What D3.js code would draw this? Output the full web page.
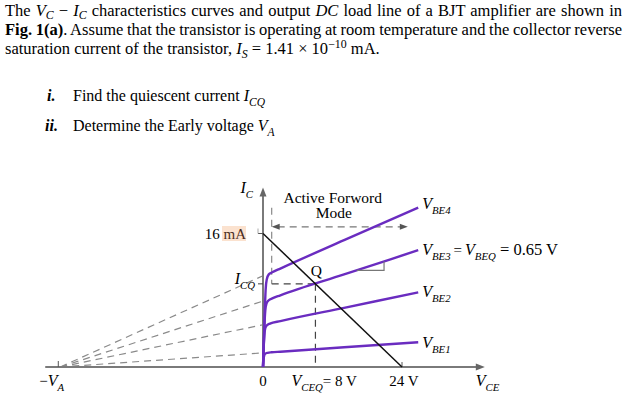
<!DOCTYPE html>
<html><head><meta charset="utf-8">
<script src="https://cdn.jsdelivr.net/npm/d3@7"></script>
<style>
body{margin:0;background:#fff;}
#wrap{position:relative;width:627px;height:395px;overflow:hidden;background:#fff;}
.pline{position:absolute;left:5px;font-family:"Liberation Serif","Times New Roman",serif;font-size:16.5px;line-height:16.5px;white-space:nowrap;color:#000;}
.ss{display:inline-block;font-size:0.72em;line-height:0.8em;position:relative;}
svg text{font-family:"Liberation Serif","Times New Roman",serif;white-space:pre;}
</style></head><body><div id="wrap"></div>
<script>
// ---------------- DATA ----------------
const paragraphLines = [
  [["The "],["V","i"],["C","isub"],[" − "],["I","i"],["C","isub"],[" characteristics curves and output "],["DC","i"],[" load line of a BJT amplifier are shown in"]],
  [["Fig. 1(a)","b"],[". Assume that the transistor is operating at room temperature and the collector reverse"]],
  [["saturation current of the transistor, "],["I","i"],["S","isub"],[" = 1.41 × 10"],["−10","sup"],[" mA."]]
];
const paragraphJustify = [true, true, false];
const questionNumbers = ["i.", "ii."];
const questionTexts = [
  [["Find the quiescent current "],["I","i"],["CQ","isub"]],
  [["Determine the Early voltage "],["V","i"],["A","isub"]]
];
// characteristic curves (x: V_CE in diagram volts, y: I_C in mA)
const curveNames = ["BE1","BE2","BE3","BE4"];
const curveVBE1 = [[0,0],[0.08,0.8],[0.2,1.35],[0.4,1.6],[0.8,1.7],[1.5,1.76],[3,1.83],[14,2.36],[26.8,2.97]];
const curveVBE2 = [[0,0],[0.1,2],[0.22,3.8],[0.38,4.6],[0.6,4.95],[1.2,5.2],[3,5.5],[14,7.09],[26.8,8.94]];
const curveVBE3 = [[0,0],[0.12,2.5],[0.25,5],[0.4,6.8],[0.6,7.6],[1.0,8.0],[1.6,8.22],[3,8.59],[14,11.09],[26.8,14.0]];
const curveVBE4 = [[0,0],[0.15,3],[0.3,6.5],[0.45,9.2],[0.65,10.5],[1.0,11.1],[1.6,11.35],[3,11.8],[14,15.2],[26.8,19.1]];
const curves = [curveVBE1, curveVBE2, curveVBE3, curveVBE4];
const curveLabelExtra = ["", "", "\u2009=\u2009V_BEQ", ""];
const curveLabelValue = ["", "", " = 0.65 V", ""];
const earlyVoltage = 35;          // -V_A intercept (diagram units)
const loadLineVcc = 24;           // V
const loadLineIsat = 16;          // mA
const vcesatBoundary = 1.5;       // edge of saturation region
const activeArrowLevel = 16.8;    // mA level of "Active Forword Mode" arrow
const activeArrowEnd = 25;        // V
const satTop = 19.1;              // top of dashed boundary
const slopeTriangle = [16.2, 20.9];
const xAxisExtent = [-37.6, 38.3];
const yAxisTop = 21.5;
const xTickLabels = ["−V_A", "0", "V_CEQ= 8 V", "24 V", "V_CE"];
const yTickLabels = ["16 mA", "I_CQ", "I_C"];
const modeLabel = ["Active Forword", "Mode"];

// ---------------- SCALES ----------------
const x = d3.scaleLinear().domain([0, 24]).range([263, 402]);
const y = d3.scaleLinear().domain([0, 16]).range([367, 233.5]);

const wrap = d3.select("#wrap");

// ---------------- PARAGRAPH (HTML, justified) ----------------
const pTops = [2.9, 22.2, 41.2];
paragraphLines.forEach((parts, li) => {
  const div = wrap.append("div").attr("class","pline").style("top", pTops[li]+"px");
  const inner = div.append("span");
  parts.forEach(([t, s]) => {
    const sp = inner.append("span").text(t);
    if (s === "i") sp.style("font-style","italic");
    if (s === "b") sp.style("font-weight","bold");
    if (s === "isub") sp.attr("class","ss").style("font-style","italic").style("top","0.28em");
    if (s === "sup") sp.attr("class","ss").style("top","-0.5em");
  });
  if (paragraphJustify[li]) {
    const w = inner.node().getBoundingClientRect().width;
    const nSpaces = parts.map(p => p[0]).join("").split(" ").length - 1;
    div.style("word-spacing", ((617 - w) / nSpaces) + "px");
  }
});

// ---------------- SVG ----------------
const svg = wrap.append("svg").attr("width",627).attr("height",395)
  .style("position","absolute").style("left",0).style("top",0);

function rich(t, str, size) {
  const tokens = [];
  str.split(/(\S*?[A-Za-z]_[A-Za-z0-9]+)/).forEach(seg => {
    if (!seg) return;
    const m = seg.match(/^(.*?)([A-Za-z])_([A-Za-z0-9]+)$/);
    if (m) {
      if (m[1]) tokens.push({t:m[1]});
      tokens.push({t:m[2], i:true});
      tokens.push({t:m[3], sub:true});
    } else tokens.push({t:seg});
  });
  let shift = 0;
  tokens.forEach(p => {
    const target = p.sub ? Math.round(size*0.3) : 0;
    const ts = t.append("tspan").text(p.t);
    if (target - shift !== 0) ts.attr("dy", target - shift);
    shift = target;
    if (p.sub) ts.attr("font-size", size*0.72).attr("font-style","italic");
    if (p.i) ts.attr("font-style","italic").attr("font-size", size*1.07);
  });
  return t;
}
function richParts(t, parts, size) {
  let shift = 0;
  parts.forEach(([txt, s]) => {
    const target = s === "isub" ? Math.round(size*0.3) : 0;
    const ts = t.append("tspan").text(txt);
    if (target - shift !== 0) ts.attr("dy", target - shift);
    shift = target;
    if (s === "isub") ts.attr("font-size", size*0.72).attr("font-style","italic");
    if (s === "i") ts.attr("font-style","italic");
  });
}

// Questions
const qBase = [100.5, 131];
questionNumbers.forEach((n, i) => {
  svg.append("text").attr("x", i === 0 ? 47 : 45).attr("y", qBase[i]).attr("font-size",16)
    .attr("font-style","italic").attr("font-weight","bold").text(n);
  const t = svg.append("text").attr("x",73).attr("y",qBase[i]).attr("font-size",16);
  richParts(t, questionTexts[i], 16);
});

const gray = "#8a8a8a";
const purple = "#6a2cc0";
const dash = "7,5";

// dashed extrapolation lines to -V_A
const intercepts = curves.map(c => {
  const [p1, p2] = [c[c.length-2], c[c.length-1]];
  const s = (p2[1]-p1[1])/(p2[0]-p1[0]);
  return p2[1] - s*p2[0];
});
intercepts.forEach(i0 => {
  svg.append("line").attr("x1", x(-earlyVoltage)).attr("y1", y(0)).attr("x2", x(0)).attr("y2", y(i0))
    .attr("stroke", gray).attr("stroke-width",1.2).attr("stroke-dasharray",dash);
});

// axes
svg.append("line").attr("x1", x(xAxisExtent[0])).attr("y1", y(0)).attr("x2", x(xAxisExtent[1])-6).attr("y2", y(0))
  .attr("stroke", "#7a7a7a").attr("stroke-width",2);
svg.append("path").attr("d", `M${x(xAxisExtent[1])},${y(0)} l-9,-3.5 l0,7 z`).attr("fill","#666");
svg.append("line").attr("x1", x(0)).attr("y1", y(0)).attr("x2", x(0)).attr("y2", y(yAxisTop)+6)
  .attr("stroke", "#7a7a7a").attr("stroke-width",2);
svg.append("path").attr("d", `M${x(0)},${y(yAxisTop)} l-3.5,9 l7,0 z`).attr("fill","#666");

// ticks
svg.append("line").attr("x1", x(-earlyVoltage)-2).attr("x2", x(-earlyVoltage)-2).attr("y1", y(0)-6).attr("y2", y(0)).attr("stroke","#555").attr("stroke-width",1);
svg.append("line").attr("x1", x(loadLineVcc)).attr("x2", x(loadLineVcc)).attr("y1", y(0)-5).attr("y2", y(0)).attr("stroke","#555").attr("stroke-width",1);
svg.append("line").attr("x1", x(0)-5).attr("x2", x(0)).attr("y1", y(loadLineIsat)).attr("y2", y(loadLineIsat)).attr("stroke","#555").attr("stroke-width",1);
svg.append("line").attr("x1", x(0)-5).attr("x2", x(0)-5).attr("y1", y(loadLineIsat)-5).attr("y2", y(loadLineIsat)).attr("stroke","#aaa").attr("stroke-width",1);

// Q point: intersection of load line with the V_BE3 linear part
const c3 = curveVBE3; const a = c3[c3.length-2], b = c3[c3.length-1];
const s3 = (b[1]-a[1])/(b[0]-a[0]);
const sl = -loadLineIsat/loadLineVcc;
const vq = (loadLineIsat - (a[1] - s3*a[0])) / (s3 - sl);
const iq = loadLineIsat + sl*vq;

// saturation boundary + ICQ / VCEQ dashed guides
svg.append("line").attr("x1", x(vcesatBoundary)).attr("x2", x(vcesatBoundary)).attr("y1", y(satTop)).attr("y2", y(iq))
  .attr("stroke", gray).attr("stroke-width",1.2).attr("stroke-dasharray",dash);
svg.append("line").attr("x1", x(vcesatBoundary)).attr("x2", x(vq)).attr("y1", y(iq)).attr("y2", y(iq))
  .attr("stroke", "#444").attr("stroke-width",1.2).attr("stroke-dasharray",dash);
svg.append("line").attr("x1", x(vq)).attr("x2", x(vq)).attr("y1", y(iq)).attr("y2", y(0))
  .attr("stroke", "#444").attr("stroke-width",1.2).attr("stroke-dasharray",dash);
svg.append("line").attr("x1", x(0)-5).attr("x2", x(0)).attr("y1", y(iq)).attr("y2", y(iq)).attr("stroke","#444").attr("stroke-width",1);

// active mode arrow
svg.append("line").attr("x1", x(vcesatBoundary)+6).attr("x2", x(activeArrowEnd)-6).attr("y1", y(activeArrowLevel)).attr("y2", y(activeArrowLevel))
  .attr("stroke", "#777").attr("stroke-width",1.2).attr("stroke-dasharray",dash);
svg.append("path").attr("d", `M${x(vcesatBoundary)},${y(activeArrowLevel)} l8,-3 l0,6 z`).attr("fill","#555");
svg.append("path").attr("d", `M${x(activeArrowEnd)},${y(activeArrowLevel)} l-8,-3 l0,6 z`).attr("fill","#555");
const amx = (x(vcesatBoundary) + x(activeArrowEnd)) / 2 - 7;
const mt = svg.append("text").attr("x", amx).attr("y", y(activeArrowLevel)-23.5).attr("text-anchor","middle").attr("font-size",15.5);
mt.append("tspan").attr("x", amx).text(modeLabel[0]);
mt.append("tspan").attr("x", amx+1).attr("dy", 15).text(modeLabel[1]);

// curves
const line = d3.line().x(d => x(d[0])).y(d => y(d[1])).curve(d3.curveMonotoneX);
curves.forEach(c => {
  svg.append("path").attr("d", line(c)).attr("fill","none").attr("stroke", purple).attr("stroke-width",2.4)
    .attr("stroke-linejoin","round");
});

// slope triangle on V_BE3
const f3 = v => a[1] + s3*(v - a[0]);
svg.append("path").attr("d", `M${x(slopeTriangle[0])},${y(f3(slopeTriangle[0]))} H${x(slopeTriangle[1])} V${y(f3(slopeTriangle[1]))}`)
  .attr("fill","none").attr("stroke", "#777").attr("stroke-width",1.2);

// load line
svg.append("line").attr("x1", x(0)).attr("y1", y(loadLineIsat)).attr("x2", x(loadLineVcc)).attr("y2", y(0))
  .attr("stroke","#111").attr("stroke-width",1.5);

// curve labels
const labOff = [6, 5, 4.5, 1.5];
curves.forEach((c, k) => {
  const end = c[c.length-1];
  const t = svg.append("text").attr("x", x(end[0])+4).attr("y", y(end[1])+labOff[k]).attr("font-size",15);
  rich(t, "V_" + curveNames[k] + curveLabelExtra[k], 15);
  if (curveLabelValue[k]) t.append("tspan").attr("font-size",16.5).attr("dy",-Math.round(15*0.3)).text(curveLabelValue[k]);
});

// Q label
svg.append("text").attr("x", x(vq)+1).attr("y", y(iq)-7.5).attr("text-anchor","middle").attr("font-size",15.5).text("Q");

// x tick labels
const xl = 386;
rich(svg.append("text").attr("x", x(-earlyVoltage)-21).attr("y", xl).attr("font-size",15), xTickLabels[0], 15);
svg.append("text").attr("x", x(0)).attr("y", xl).attr("text-anchor","middle").attr("font-size",15).text(xTickLabels[1]);
rich(svg.append("text").attr("x", x(vq)-24).attr("y", xl).attr("font-size",15), xTickLabels[2], 15);
svg.append("text").attr("x", x(loadLineVcc)+2).attr("y", xl).attr("text-anchor","middle").attr("font-size",15).text(xTickLabels[3]);
rich(svg.append("text").attr("x", x(xAxisExtent[1])-9).attr("y", xl).attr("font-size",15), xTickLabels[4], 15);

// y labels
const [n16, unit16] = yTickLabels[0].split(" ");
svg.append("rect").attr("x", 222).attr("y", y(loadLineIsat)-7.5).attr("width",24).attr("height",15).attr("fill","#fbe2cf");
const t16 = svg.append("text").attr("x", x(0)-17).attr("y", y(loadLineIsat)+5.5).attr("text-anchor","end").attr("font-size",15);
t16.append("tspan").text(n16 + " ");
t16.append("tspan").attr("fill","#4a2e1e").text(unit16);
rich(svg.append("text").attr("x", x(0)-8).attr("y", y(iq)+0.5).attr("text-anchor","end").attr("font-size",15), yTickLabels[1], 15);
rich(svg.append("text").attr("x", x(0)-10).attr("y", y(yAxisTop)+5).attr("text-anchor","end").attr("font-size",15), yTickLabels[2], 15);
</script></body></html>
